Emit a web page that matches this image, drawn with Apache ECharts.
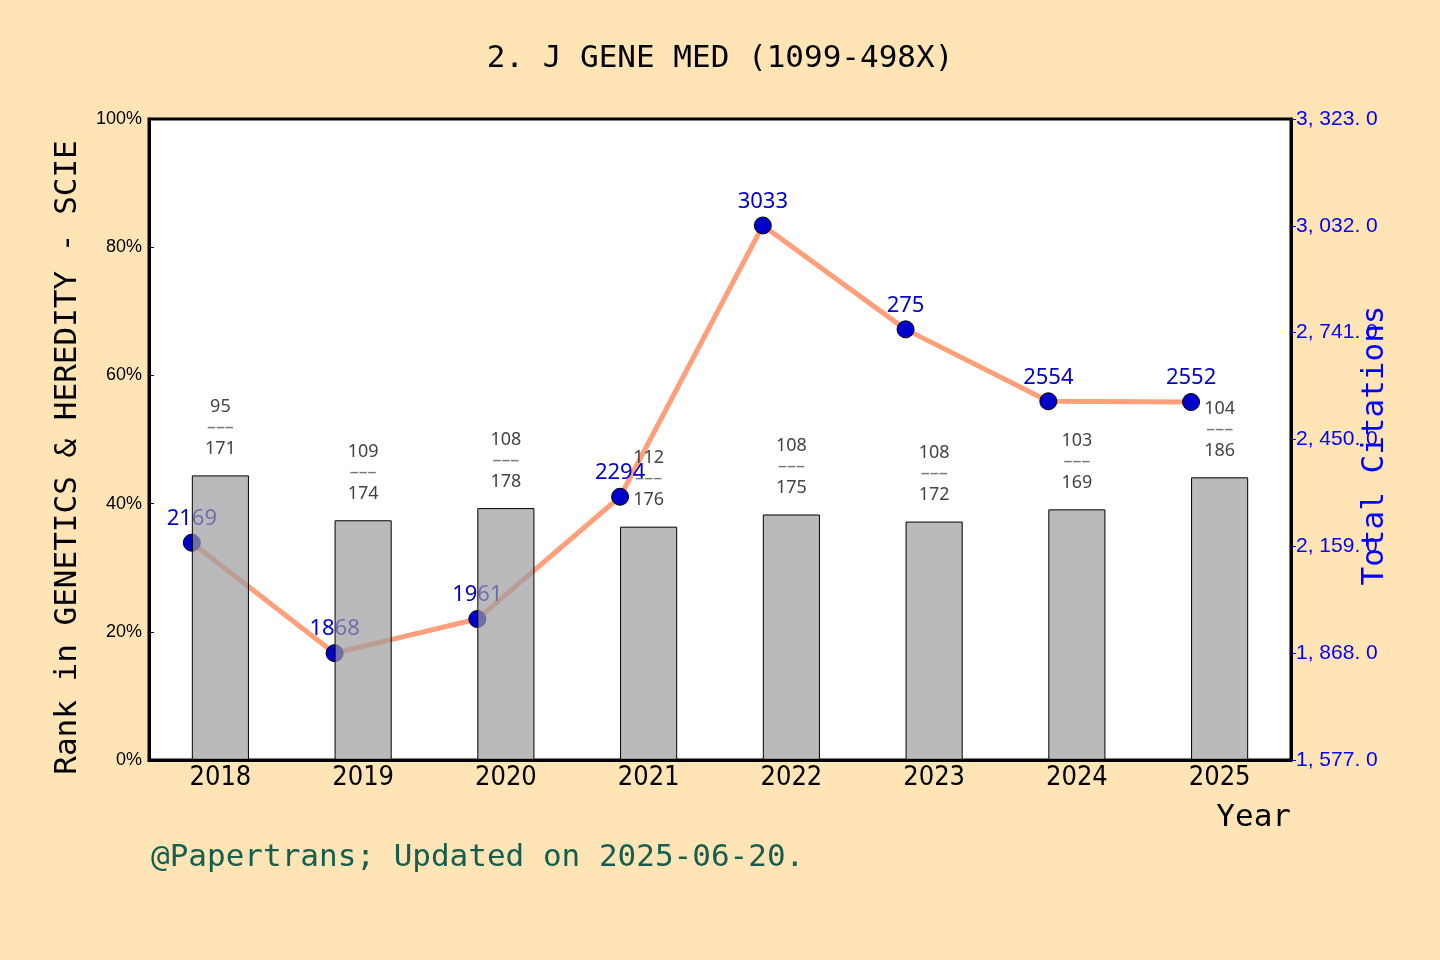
<!DOCTYPE html>
<html>
<head>
<meta charset="utf-8">
<script src="https://cdn.jsdelivr.net/npm/echarts@6/dist/echarts.min.js"></script>
<style>
  html, body { margin: 0; padding: 0; background: #ffe4b5; }
  #chart { width: 1440px; height: 960px; }
</style>
</head>
<body>
<div id="chart"></div>
<script>
// années
const years = ["2018", "2019", "2020", "2021", "2022", "2023", "2024", "2025"];
// rang dans la catégorie / nombre de revues
const ranks = [95, 109, 108, 112, 108, 108, 103, 104];
const totals = [171, 174, 178, 176, 175, 172, 169, 186];
// hauteur des barres (%)
const rankPct = [44.4, 37.4, 39.3, 36.4, 38.3, 37.2, 39.1, 44.1];
// citations totales
const citations = [2169, 1868, 1961, 2294, 3033, 2750, 2554, 2552];
const citationLabels = ["2169", "1868", "1961", "2294", "3033", "275", "2554", "2552"];
// graduations de l'axe de droite
const rightTicks = [1577, 1868, 2159, 2450, 2741, 3032, 3323];

const monoFont = "DejaVu Sans Mono";

function fmtRight(v) {
  const s = v.toLocaleString("en-US", { minimumFractionDigits: 1, maximumFractionDigits: 1 });
  return s.replace(",", ", ").replace(".", ". ");
}

const chart = echarts.init(document.getElementById("chart"));

const option = {
  backgroundColor: "#ffe4b5",
  animation: false,
  title: [
    {
      text: "2. J GENE MED (1099-498X)",
      left: "center",
      top: 38,
      textStyle: { fontFamily: monoFont, fontSize: 31, fontWeight: "normal", color: "#000" },
    },
    {
      text: "@Papertrans; Updated on 2025-06-20.",
      left: 146,
      top: 837,
      textStyle: { fontFamily: monoFont, fontSize: 31, fontWeight: "normal", color: "#135e50" },
    },
  ],
  grid: {
    left: 149,
    right: 149,
    top: 119,
    bottom: 200,
    show: true,
    backgroundColor: "#fff",
    borderColor: "#000",
    borderWidth: 3,
  },
  xAxis: [
    {
      type: "category",
      data: years,
      boundaryGap: true,
      axisLine: { lineStyle: { color: "#000", width: 3 } },
      axisTick: { inside: true, length: 5, lineStyle: { color: "#000" } },
      axisLabel: { color: "#000", fontFamily: "DejaVu Sans Condensed", fontSize: 27, margin: 4 },
      name: "Year",
      nameLocation: "end",
      nameGap: 0,
      nameMoveOverlap: false,
      nameTextStyle: {
        fontFamily: monoFont, fontSize: 31, color: "#000",
        align: "right", verticalAlign: "top", padding: [42, 0, 0, 0],
      },
    },
    {
      type: "value",
      min: -0.5,
      max: 7.5,
      show: false,
    },
  ],
  yAxis: [
    {
      type: "value",
      min: 0,
      max: 100,
      interval: 20,
      splitLine: { show: false },
      axisLine: { show: true, onZero: false, lineStyle: { color: "#000", width: 3 } },
      axisTick: { show: true, inside: true, length: 5, lineStyle: { color: "#000" } },
      axisLabel: { formatter: "{value}%", color: "#000", fontFamily: "Liberation Sans", fontSize: 18, margin: 7 },
      name: "Rank in GENETICS & HEREDITY - SCIE",
      nameLocation: "middle",
      nameGap: 66,
      nameMoveOverlap: false,
      nameTextStyle: { fontFamily: monoFont, fontSize: 31, color: "#000", padding: [0, 0, 0, -36] },
    },
    {
      type: "value",
      position: "right",
      min: 1577,
      max: 3323,
      splitLine: { show: false },
      axisLine: { show: true, onZero: false, lineStyle: { color: "#000", width: 3 } },
      axisTick: { show: true, length: 5, customValues: rightTicks, lineStyle: { color: "#0000ff" } },
      axisLabel: {
        customValues: rightTicks,
        formatter: fmtRight,
        color: "#0000ff",
        fontFamily: "Liberation Sans",
        fontSize: 21,
        margin: 5,
      },
      name: "Total Citations",
      nameLocation: "middle",
      nameGap: 68,
      nameMoveOverlap: false,
      nameTextStyle: { fontFamily: monoFont, fontSize: 31, color: "#0000ff", padding: [0, 0, 0, -12] },
    },
  ],
  series: [
    {
      type: "line",
      xAxisIndex: 1,
      yAxisIndex: 1,
      z: 2,
      data: citations.map((v, i) => [i - 0.2, v]),
      lineStyle: { color: "#ffa07a", width: 5 },
      symbol: "circle",
      symbolSize: 17,
      itemStyle: { color: "#0000cc", borderColor: "#000", borderWidth: 1 },
      label: {
        show: true,
        position: "top",
        distance: 4,
        formatter: (p) => citationLabels[p.dataIndex],
        color: "#0000cc",
        fontFamily: "Noto Sans",
        fontSize: 22,
      },
    },
    {
      type: "bar",
      xAxisIndex: 0,
      yAxisIndex: 0,
      z: 3,
      data: rankPct,
      barWidth: "40%",
      itemStyle: { color: "rgba(156,157,160,0.7)", borderColor: "#000", borderWidth: 1 },
      label: {
        show: true,
        position: "top",
        distance: 16,
        formatter: (p) => "{n|" + ranks[p.dataIndex] + "}\n{d|–––}\n{n|" + totals[p.dataIndex] + "}",
        rich: {
          n: { fontFamily: "Noto Sans", fontSize: 18, color: "#444", lineHeight: 21 },
          d: { fontFamily: "Noto Sans", fontSize: 18, color: "#777", lineHeight: 21 },
        },
      },
    },
  ],
};

chart.setOption(option);
</script>
</body>
</html>
